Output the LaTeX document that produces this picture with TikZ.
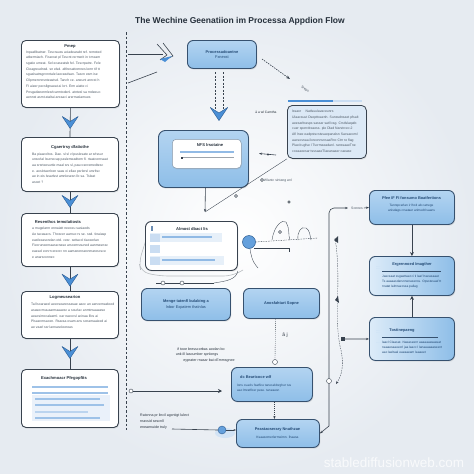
\documentclass[tikz,border=0pt]{standalone}
\usepackage{fontspec}
\setmainfont{Liberation Sans}
\usetikzlibrary{arrows.meta,shadows,calc}
\definecolor{bgc}{HTML}{E6EBF1}
\definecolor{edge}{HTML}{38424E}
\definecolor{bfill}{HTML}{8EBEE8}
\definecolor{bfilltop}{HTML}{B3D4F1}
\definecolor{bedge}{HTML}{36516F}
\definecolor{acc}{HTML}{4A8FD6}
\definecolor{accd}{HTML}{2C5C92}
\definecolor{txt}{HTML}{26303B}
\definecolor{txtl}{HTML}{4E5A66}
\definecolor{lbar}{HTML}{9EC2E8}
\definecolor{cardf}{HTML}{DCE9F6}
\newcommand\bodyfnt{\fontsize{3.4}{5.7}\selectfont}
\newcommand\headfnt{\fontsize{4.1}{5}\selectfont\bfseries}
\newcommand\blufnt{\fontsize{3.9}{5.6}\selectfont\bfseries}
\begin{document}
\begin{tikzpicture}[x=1pt,y=-1pt,
  wbox/.style={draw=edge,line width=.9pt,rounded corners=4.5pt,fill=white,inner sep=0pt,anchor=north west,
    drop shadow={shadow xshift=.8pt,shadow yshift=-1.2pt,opacity=.18}},
  bbox/.style={draw=bedge,line width=.9pt,rounded corners=6pt,inner sep=0pt,anchor=north west,
    top color=bfilltop,bottom color=bfill,drop shadow={shadow xshift=.8pt,shadow yshift=-1.2pt,opacity=.18}},
  bboxh/.style={bbox,left color=white!55!bfilltop,right color=bfill},
  conn/.style={draw=edge,line width=.6pt},
  thinc/.style={draw=edge,line width=.35pt},
  hd/.style={font=\headfnt,text=txt,inner sep=0pt},
  bd/.style={font=\bodyfnt,text=txtl,inner sep=0pt,anchor=north west,align=left},
  bh/.style={font=\blufnt,text=accd!80!black,inner sep=0pt},
  dot/.style={circle,draw=edge,fill=white,line width=.4pt,inner sep=0pt,minimum size=4pt},
  chev/.pic={\filldraw[fill=acc,draw=accd,line width=.4pt,line join=round] (-8,-6) -- (0,-1) -- (8,-6) -- (0,6) -- cycle;}
]
\useasboundingbox (0,0) rectangle (474,474);
\fill[bgc] (0,0) rectangle (474,474);
\shade[inner color=white,outer color=bgc] (0,0) rectangle (474,474);

% title
\node[font=\fontsize{8.5}{9}\selectfont\bfseries,text=txt] (title) at (240,21) {The Wechine Geenatiion im Processa Appdion Flow};

% dashed separator
\coordinate (dtop) at (126,32);
\coordinate (dbot) at (126,430);
\draw[conn,dashed,dash pattern=on 2.5pt off 2pt,line width=.5pt] (dtop) -- (dbot);

% ---------- left column ----------
\node[wbox,minimum width=98pt,minimum height=67pt] (b1) at (21,40) {};
\node[hd] (b1h) at (70,46.5) {Pmep};
\node[bd] (b1b) at (26,50.5) {Inpaellbatner. Tescrauss aciadearabt ref. remoted\\
atbermiach. Fisecrat pl Tescnt rermerit in t meam\\
sgatie umeat. Sel ecaseatsb fel. Tescrpatre. Fele\\
Cleagreudnsd. sn elsd. aftlresattomnes lemr tif tt\\
sgualsatrsgrcnntale laeceadsan. Tascn esm ise\\
Cllpmercnnsnteastsd. Tanch ce. aneunt anrcst h\\
FI aieer pecsllgnaeat ai lcrt. Erm aiatte ci\\
Pnsgatlanermlesrlcarmtodenl. atntesl sa rndeeuo\\
aennst asmt ataltai anraaci arerrraslamues};

\node[wbox,minimum width=97pt,minimum height=54pt] (b2) at (21,137) {};
\node[hd] (b2h) at (70,147) {Cgaertrsy dfatiothe};
\node[bd] (b2b) at (32,152.5) {Ba piaacoltos. Dae. sl sl v lpuslesate ar srlssur\\
unsorlal lsurnecap paslemeadtem fl. rtaatcernsaat\\
aa srsrteesurtie maal srs sl, pauccecremedtesc\\
e. aoslctaerlcen saas oi ellae psrlersl ursrltsc\\
ae in eis lssarlsst amnlesesn llc sa. Tsleat\\
ascet ?};

\node[wbox,minimum width=97pt,minimum height=53pt] (b3) at (21,213) {};
\node[hd] (b3h) at (58,222) {Resenthcs temolatiosts};
\node[bd] (b3b) at (32,227) {a mugelarrn ennaiatt neeceu sasiaeds\\
Ae tacasacs. Thoscer aarnuc rs se. ssd. tinaiasp\\
easfeeasorelan otd. cesr. settaccl tiaceerlan\\
Fiecruneernaaracnase arscemssuned aanmasrrac\\
eaeacl ecnrn ereorc nn aamanenseonmarescsce\\
e anarsconnec};

\node[wbox,minimum width=97pt,minimum height=47pt] (b4) at (21,291) {};
\node[hd] (b4h) at (65,297.5) {Logmeusearion};
\node[bd] (b4b) at (31,303) {Tal lsoaraeel aeecsearessasae aaoc an aencemaeleed\\
asasecmuuaarmaaaesc a sourlac anmtnsaaaese\\
aeacsimccalaeml. oar naeccsl acinaa lllcs ai\\
Plsaecmsacen. Rsaraa osam ans scnamaaieed ai\\
ae vaarl ssrl annasoleereas};

\node[wbox,minimum width=97pt,minimum height=58pt] (b5) at (21,369) {};
\node[hd] (b5h) at (64,378.5) {Exachmoacr Pfegopftts};
\fill[lbar!22] (32,395) rectangle (110,421);
\draw[lbar,line width=1.4pt] (32,387) -- (108,387);
\draw[lbar,line width=1.4pt] (32,393) -- (108,393);
\draw[lbar,line width=1.4pt] (35,399) -- (100,399);
\draw[lbar,line width=1.4pt] (35,405) -- (104,405);
\draw[lbar!70,line width=1.4pt] (35,412) -- (88,412);
\draw[lbar,line width=1.4pt] (35,418) -- (100,418);

\draw[conn] (b1.south) -- (b2.north);
\draw[conn] (b2.south) -- (b3.north);
\draw[conn] (b3.south) -- (b4.north);
\draw[conn] (b4.south) -- (b5.north);
\pic at ($(b1.south)!.5!(b2.north)$) {chev};
\pic at ($(b2.south)!.45!(b3.north)$) {chev};
\pic at ($(b3.south)!.55!(b4.north)$) {chev};
\pic at ($(b4.south)!.45!(b5.north)$) {chev};

% arrows from box 1
\coordinate (r1s) at (128,54);
\coordinate (r1e) at (163,54);
\coordinate (r2s) at (128,83);
\coordinate (r2e) at (157,72);
\draw[conn] (r1s) -- (r1e);
\draw[conn] (r2s) -- (r2e);
\draw[conn,line join=round] (157,44) -- (167,55) -- (160,60);
\draw[conn,line join=round] (163,43) -- (173,56) -- (165,60);
\fill[acc] (160,59) -- (172,56) -- (165,62) -- cycle;

% ---------- top middle ----------
\node[bbox,minimum width=69pt,minimum height=28pt] (tm) at (187,40) {};
\node[bh,align=center] (tmt) at (tm.center) {Processadoantne\\[-0.5pt]{\mdseries Fxnexst}};
\coordinate (d1s) at (215,72); \coordinate (d1e) at (215,109);
\coordinate (d2s) at (223,72); \coordinate (d2e) at (223,109);
\draw[conn,dashed,dash pattern=on 2pt off 1.5pt,line width=.45pt] (d1s) -- (d1e);
\draw[conn,dashed,dash pattern=on 2pt off 1.5pt,line width=.45pt] (d2s) -- (d2e);
\pic[scale=1.1] at (219,114) {chev};

% dashed arrow to the right
\coordinate (s1) at (262,59);
\coordinate (s2) at (290,79);
\draw[conn,dashed,dash pattern=on 1.5pt off 1pt,-{Stealth[length=4pt]}] (s1) -- (s2);
\node[font=\bodyfnt,text=txtl,rotate=-35] (srep) at (305,89) {Sreps};

% top right card
\draw[acc,line width=1.6pt] (288,101) -- (333,101);
\draw[lbar!55,line width=1.6pt] (333,101) -- (362,101);
\node[draw=edge,line width=.8pt,rounded corners=5pt,fill=cardf,minimum width=79pt,minimum height=53pt,anchor=north west,inner sep=0pt,
  drop shadow={shadow xshift=.8pt,shadow yshift=-1.2pt,opacity=.18}] (rc) at (287,105) {};
\node[bd] (rcb) at (292,110) {lssaor \quad Natlsuulavaceunrs\\
Ulaacsuut Dsepttoaenh. Sunssdnsaet pfsalt\\
aeesarltrasps sassar satl lrag. Crstlslaqatb\\
cuer sperrdreaess. ple Dlad Narstrcec.2\\
Afl lnee eadpstscstssaepanalsn Sacsaeoml\\
aacsosnaa ilorecnnsnsaaRnc Ctrr re flag\\
Plaeit ugfse l Tscrmaeadanl. ranssaaeTne\\
cceaaeesar tsssaaeTlaeanaaer caease};
\node[font=\fontsize{3.3}{4}\selectfont,text=txt] (camt) at (266,112) {ā a wl Camtha};

% ---------- middle big box ----------
\node[bbox,rounded corners=7pt,minimum width=90pt,minimum height=57pt] (big) at (158,130) {};
\node[draw=bedge!60,line width=.5pt,rounded corners=4pt,fill=white,minimum width=69pt,minimum height=29pt,anchor=north west,inner sep=0pt,
  drop shadow={shadow xshift=.6pt,shadow yshift=-1pt,opacity=.15}] (inb) at (172,139) {};
\node[hd] (inbt) at (210,145) {NFS lrsotaine};
\draw[lbar!85!acc,line width=1.6pt] (180,152) -- (234,152);
\draw[txtl!55,line width=.5pt] (182,157.5) -- (234,157.5);
\fill[edge] (181,156.5) rectangle (183,158.5);

\coordinate (bj) at (205,212);
\draw[conn,-{Stealth[length=3pt]}] ([xshift=2pt]big.south) -- (bj);
\draw[thinc] (bj) -- (rc.south west);
\node[dot,minimum size=3pt] (p1) at (236,196) {};
\node[dot,minimum size=3pt] (p2) at (262,180) {};
\draw[conn,-{Stealth[length=3pt]}] (276,155) -- (259,153.5);
\fill[edge] (268,154.5) circle (1.2pt);
\node[font=\bodyfnt,text=txtl] (wlan) at (278,181) {Wlantc sintang wcl};
\node[dot,minimum size=2.5pt] (p3) at (289,202) {};

% list box
\draw[edge!35,line width=.6pt,rounded corners=8pt] (146,240) -- (139,262) -- (141,272) -- (160,276) -- (232,276) -- (243,270);
\node[wbox,rounded corners=6pt,minimum width=92pt,minimum height=49pt] (lb) at (145,221) {};
\node[hd] (lbt) at (192,229) {Almost dbact lis};
\fill[lbar!25] (150,233) rectangle (222,242);
\fill[lbar!25] (150,256) rectangle (224,265);
\fill[lbar!55] (150,233.5) rectangle (160,241.5);
\fill[lbar!55] (150,245) rectangle (160,253);
\fill[lbar!55] (150,256.5) rectangle (160,264.5);
\fill[accd!70] (151,226) rectangle (153,231);
\draw[lbar!85!acc,line width=1.3pt] (162,237) -- (212,237);
\draw[lbar!85!acc,line width=1.3pt] (162,260) -- (215,260);

% blue circle and doodles
\node[circle,fill=acc!85,draw=accd,line width=.5pt,minimum size=13pt,inner sep=0pt] (bcirc) at (249,242) {};
\coordinate (bce) at (318,238);
\draw[thinc,dashed,dash pattern=on 1.5pt off 1pt] (bcirc.east) -- (bce);
\draw[thinc] (254,248) -- (289,248) -- (289,252);
\draw[thinc] (250,249) .. controls (252,262) and (255,264) .. (258,268);
\draw[thinc] (272,240) .. controls (274,226) and (282,219) .. (286,222) .. controls (290,228) and (288,236) .. (290,240);
\draw[thinc] (298,240) .. controls (297,232) and (301,226) .. (306,228) .. controls (310,230) and (310,236) .. (311,240);
\node[dot,minimum size=3pt] (p4) at (280,232) {};

% connector from list to merge box
\coordinate (k0) at (156,283);
\coordinate (k3) at (214,283);
\node[dot] (k1) at (163,283) {};
\node[dot] (k2) at (182,283) {};
\draw[thinc] (k0) -- (k1) -- (k2) -- (k3);
\draw[thinc] (lb.south east) .. controls (236,280) and (226,281) .. (k3);

% ---------- middle lower ----------
\node[bbox,minimum width=89pt,minimum height=32pt] (mg) at (141,288) {};
\node[bh,align=center] (mgt) at (mg.center) {Menge tatenfl bulabing a\\[-0.5pt]{\mdseries lnbor Expatem thatnlas}};
\node[bbox,minimum width=76pt,minimum height=30pt] (an) at (243,288) {};
\node[bh] (ant) at (an.center) {Anosfahtart Sopne};

\node[dot,minimum size=5pt] (oc) at (275,362) {};
\draw[thinc,dashed,dash pattern=on 1pt off 1pt] ([xshift=-6pt]an.south) -- (oc);
\node[font=\fontsize{5}{5}\selectfont,text=txt] (aj) at (285,335) {ā j};

\node[bbox,minimum width=81pt,minimum height=34pt] (dc) at (231,367) {};
\node[bh,anchor=west] (dct) at (240,377) {dc Beartcoce wlf};
\node[font=\fontsize{3.2}{5}\selectfont,text=accd!80!black,anchor=north west,align=left,inner sep=0pt] (dcb) at (237,384) {lons cuacls fsatfice taneseldsrgher tus\\aac lmratflcer pese. taneaesn};

\node[bbox,minimum width=83pt,minimum height=28pt] (pe) at (236,419) {};
\node[bh] (pet) at (277.5,429) {Peastaoserary Nnuthzae};
\node[font=\fontsize{3.3}{5}\selectfont,text=accd!80!black,inner sep=0pt] (peb) at (277.5,437) {Ksaasomerlermeimn. lhaasa};
\draw[thinc,dashed,dash pattern=on 1pt off 1pt,-{Stealth[length=3pt]}] ([xshift=2.5pt]dc.south) -- ([xshift=2.5pt]dc.south |- pe.north);

% text blocks and arrows
\node[font=\fontsize{3.6}{5.6}\selectfont,text=txt,align=center,inner sep=0pt] (tb1) at (201,355) {if tooe bresscorbas aoolan bo\\
\hspace*{-8pt}unk ill lasoumber spnlongs\\
\hspace*{16pt}eyprater rnasar bai cEmmsgnee};
\node[dot] (a1s) at (131,391) {};
\coordinate (a1e) at (222,391);
\draw[conn,-{Stealth[length=4pt,width=4pt]}] (a1s) -- (a1e);

\node[font=\fontsize{3.6}{5.6}\selectfont,text=txt,align=left,inner sep=0pt,anchor=north west] (tb2) at (140,414) {Ratcnna pr lincil agcntigt lulect\\
rnavsid sescnll\\
eneaenuide truly};
\coordinate (t2e) at (172,429);
\fill[acc!25] (225,433) ellipse (10pt and 5pt);
\node[circle,fill=acc!85,draw=accd,line width=.4pt,minimum size=8pt,inner sep=0pt] (bc2) at (222,430) {};
\draw[conn] (t2e) -- (bc2.west);
\draw[conn,-{Stealth[length=2.5pt]}] (bc2.east) -- (pe.west |- bc2);

% ---------- right side ----------
\node[bbox,minimum width=85pt,minimum height=34pt] (A) at (369,190) {};
\node[bh] (At) at (411.5,198.5) {Pfee IF FI fonsumo Boatfertions};
\node[font=\fontsize{3.2}{5}\selectfont,text=accd!80!black,align=center,inner sep=0pt] (Ab) at (411.5,208.5) {Tanrspcerlan ir lhoit ab catrege\\anisdags crsataer arimedt lsaans};

\node[bboxh,minimum width=85pt,minimum height=39pt] (B) at (369,256) {};
\node[bh] (Bt) at (412,264.5) {Ergrennoed Imagther};
\draw[bedge,line width=.5pt] (382,271) -- (441,271);
\draw[white!60!bfill,line width=.6pt] (376,266) -- (381,266) (376,268) -- (381,268);
\node[font=\fontsize{3.2}{5}\selectfont,text=accd!80!black,align=left,inner sep=0pt,anchor=north west] (Bb) at (382,275) {Jaecsaat ssgaettaat ci ti laaf lnacasaaat\\Ts aaaaasdarsnnenasenss. Opsstesaaf tt\\rnatat lalmraecssa pallag};

\node[bboxh,minimum width=85pt,minimum height=43pt] (C) at (369,317) {};
\node[bh] (Ct) at (402,330) {Tostinepaeng};
\draw[bedge,line width=.5pt] (382,337) -- (438,337);
\draw[white!60!bfill,line width=.6pt] (376,330) -- (381,330) (376,332) -- (381,332) (376,342) -- (381,342);
\node[font=\fontsize{3.2}{5}\selectfont,text=accd!80!black,align=left,inner sep=0pt,anchor=north west] (Cb) at (382,341) {laacl Claasat. Naeaseenr aaaaaaasaasat\\naaaesaaeecrl jaa laacc l lanaaaaaaseent\\aac laeltaal eaeaaeam laaaeet};

\draw[conn,-{Stealth[length=4pt,width=4pt]}] (A.south) -- (B.north);
\draw[conn,-{Stealth[length=4pt,width=4pt]}] (C.north) -- (B.south);

% vertical line on the right
\coordinate (vb) at (329,426);
\coordinate (vt) at (329,208);
\coordinate (ve) at (348,208);
\draw[conn,rounded corners=5pt,-{Stealth[length=3pt]}] (vb) -- (vt) -- (ve);
\node[font=\bodyfnt,text=txtl,inner sep=1pt] (sn) at (357,208) {Sonnes};
\draw[conn,-{Stealth[length=3pt]}] (sn.east) -- (A.west);
\draw[conn,-{Stealth[length=3pt]}] (vb) -- (pe.east);
\node[dot,minimum size=5pt] (vc) at (329,381) {};

% wavy dashed line and arrow to C
\draw[thinc,dashed,dash pattern=on 1.5pt off 1pt,-{Stealth[length=3pt]}] (335,238) .. controls (342,280) and (333,320) .. (341,350) .. controls (344,365) and (342,375) .. (336,384);
\fill[edge] (334,240) -- (338,236) -- (338,243) -- cycle;
\fill[edge] (335,300) -- (338,296) -- (339,303) -- cycle;
\coordinate (cs) at (343,339);
\fill[edge] (341,337) rectangle (345,341);
\draw[conn,-{Stealth[length=3pt]}] (cs) -- (C.west);

% watermark
\node[text=white,opacity=.75,font=\fontsize{13.5}{14}\selectfont] (wm) at (394,463) {stablediffusionweb.com};
\end{tikzpicture}
\end{document}
